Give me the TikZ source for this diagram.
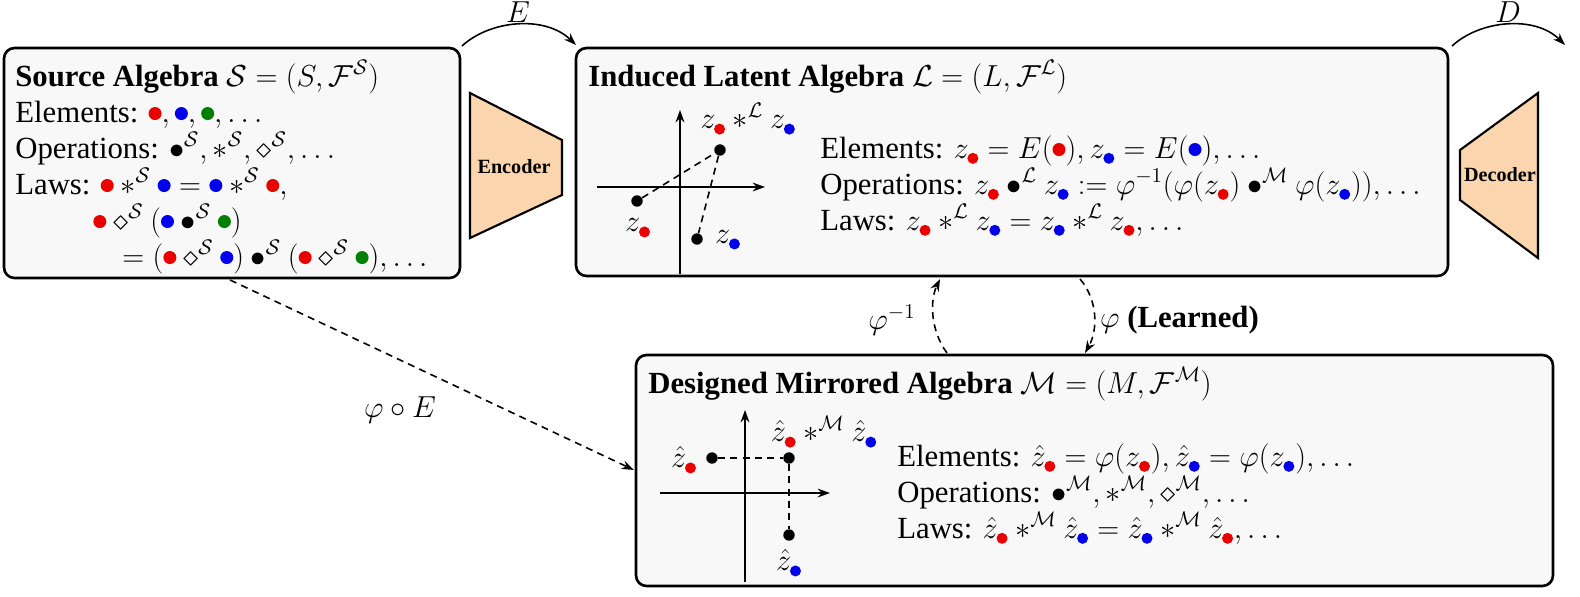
\documentclass[tikz,border=0pt]{standalone}
\usepackage{fontspec}
\setmainfont{Liberation Serif}
\usepackage{amsmath,amssymb}
\usetikzlibrary{arrows.meta}
\definecolor{boxfill}{RGB}{248,248,248}
\definecolor{encfill}{RGB}{251,213,174}
\definecolor{mred}{RGB}{235,0,0}
\definecolor{mblue}{RGB}{0,0,235}
\definecolor{mgreen}{RGB}{0,128,0}
\newcommand\rd{\mathord{\tikz[baseline=-0.6ex]\fill[mred] (0,0) circle (0.13cm);}}
\newcommand\bd{\mathord{\tikz[baseline=-0.6ex]\fill[mblue] (0,0) circle (0.13cm);}}
\newcommand\gd{\mathord{\tikz[baseline=-0.6ex]\fill[mgreen] (0,0) circle (0.13cm);}}
\newcommand\rs{{\tikz[baseline=-0.3ex]\fill[mred] (0,0) circle (0.11cm);}}
\newcommand\bs{{\tikz[baseline=-0.3ex]\fill[mblue] (0,0) circle (0.11cm);}}
\newcommand\zr{z_{\rs}}
\newcommand\zb{z_{\bs}}
\newcommand\hzr{\hat z_{\rs}}
\newcommand\hzb{\hat z_{\bs}}
\begin{document}
\begin{tikzpicture}[x=0.02cm,y=-0.02cm,
  box/.style={draw,line width=1.5pt,rounded corners=6pt,fill=boxfill},
  txt/.style={anchor=base west,inner sep=0pt,font=\fontsize{17.5}{20}\selectfont},
  lbl/.style={inner sep=1pt,font=\fontsize{17.5}{20}\selectfont},
  coder/.style={draw,line width=1.2pt,fill=encfill},
  ax/.style={line width=1pt,-{Stealth[length=7pt,width=5pt]}},
  dsh/.style={line width=0.9pt,dash pattern=on 4pt off 3pt},
  arr/.style={line width=0.9pt,-{Stealth[length=7pt,width=5pt]}},
  pt/.style={circle,fill=black,inner sep=0pt,minimum size=6.5pt}]
\useasboundingbox (0,0) rectangle (1580,596);
% boxes
\draw[box] (4,48) rectangle (460,278);
\draw[box] (576,48) rectangle (1448,276);
\draw[box] (636,355) rectangle (1553,586);
\coordinate (sbot) at (230,280);
\coordinate (mleft) at (634,470);
% encoder/decoder
\draw[coder] (470,93) -- (562,140) -- (562,195) -- (470,238) -- cycle;
\node[font=\bfseries\fontsize{11.5}{13}\selectfont] (enc) at (514,167) {Encoder};
\draw[coder] (1460,150) -- (1538,93) -- (1538,258) -- (1460,200) -- cycle;
\node[font=\bfseries\fontsize{11.5}{13}\selectfont] (dec) at (1500,175) {Decoder};
% source text
\node[txt] (s0) at (15,86) {\textbf{Source Algebra} $\mathcal{S}=(S,\mathcal{F}^{\mathcal{S}})$};
\node[txt] (s1) at (15,122) {Elements: $\rd,\bd,\gd,\dots$};
\node[txt] (s2) at (15,158) {Operations: $\bullet^{\mathcal{S}},\ast^{\mathcal{S}},\diamond^{\mathcal{S}},\dots$};
\node[txt] (s3) at (15,194) {Laws: $\rd\ast^{\mathcal{S}}\bd=\bd\ast^{\mathcal{S}}\rd,$};
\node[txt] (s4) at (93,230) {$\rd\diamond^{\mathcal{S}}(\bd\bullet^{\mathcal{S}}\gd)$};
\node[txt] (s5) at (122,266) {$=(\rd\diamond^{\mathcal{S}}\bd)\bullet^{\mathcal{S}}(\rd\diamond^{\mathcal{S}}\gd),\dots$};
% latent
\node[txt] (l0) at (588,86) {\textbf{Induced Latent Algebra} $\mathcal{L}=(L,\mathcal{F}^{\mathcal{L}})$};
\coordinate (lya) at (680,274); \coordinate (lyb) at (680,110);
\coordinate (lxa) at (597,187); \coordinate (lxb) at (765,187);
\draw[ax] (lya) -- (lyb);
\draw[ax] (lxa) -- (lxb);
\node[pt] (la) at (637,201) {};
\node[pt] (lb) at (720,150) {};
\node[pt] (lc) at (697,239) {};
\draw[dsh] (la) -- (lb) -- (lc);
\node[lbl] (lla) at (638,228) {$\zr$};
\node[lbl] (llc) at (728,240) {$\zb$};
\node[lbl] (llb) at (748,119) {$\zr\ast^{\mathcal{L}}\zb$};
\node[txt] (l1) at (820,158) {Elements: $\zr=E(\rd),\zb=E(\bd),\dots$};
\node[txt] (l2) at (820,194) {Operations: $\zr\bullet^{\mathcal{L}}\zb\mathrel{:=}\varphi^{-1}(\varphi(\zr)\bullet^{\mathcal{M}}\varphi(\zb)),\dots$};
\node[txt] (l3) at (820,230) {Laws: $\zr\ast^{\mathcal{L}}\zb=\zb\ast^{\mathcal{L}}\zr,\dots$};
% mirrored
\node[txt] (m0) at (648,393) {\textbf{Designed Mirrored Algebra} $\mathcal{M}=(M,\mathcal{F}^{\mathcal{M}})$};
\coordinate (mya) at (745,582); \coordinate (myb) at (745,410);
\coordinate (mxa) at (660,493); \coordinate (mxb) at (830,493);
\draw[ax] (mya) -- (myb);
\draw[ax] (mxa) -- (mxb);
\node[pt] (ma) at (712,458) {};
\node[pt] (mb) at (789,458) {};
\node[pt] (mc) at (789,535) {};
\draw[dsh] (ma) -- (mb) -- (mc);
\node[lbl] (mla) at (684,460) {$\hzr$};
\node[lbl] (mlc) at (789,563) {$\hzb$};
\node[lbl] (mlb) at (824,432) {$\hzr\ast^{\mathcal{M}}\hzb$};
\node[txt] (m1) at (897,466) {Elements: $\hzr=\varphi(\zr),\hzb=\varphi(\zb),\dots$};
\node[txt] (m2) at (897,502) {Operations: $\bullet^{\mathcal{M}},\ast^{\mathcal{M}},\diamond^{\mathcal{M}},\dots$};
\node[txt] (m3) at (897,538) {Laws: $\hzr\ast^{\mathcal{M}}\hzb=\hzb\ast^{\mathcal{M}}\hzr,\dots$};
% arrows
\coordinate (e1) at (462,46); \coordinate (e2) at (576,45);
\draw[arr] (e1) .. controls (490,20) and (545,15) .. (e2);
\node[lbl] (el) at (518,12) {$E$};
\coordinate (d1) at (1452,46); \coordinate (d2) at (1565,45);
\draw[arr] (d1) .. controls (1480,20) and (1535,15) .. (d2);
\node[lbl] (dl) at (1508,12) {$D$};
\draw[arr,dsh] (sbot) -- (mleft);
\node[lbl] (pel) at (400,410) {$\varphi\circ E$};
\coordinate (pi1) at (947,353); \coordinate (pi2) at (940,279);
\draw[arr,dsh] (pi1) .. controls (930,330) and (930,300) .. (pi2);
\node[lbl] (pil) at (892,320) {$\varphi^{-1}$};
\coordinate (p1) at (1080,279); \coordinate (p2) at (1085,353);
\draw[arr,dsh] (p1) .. controls (1098,300) and (1098,330) .. (p2);
\node[lbl,anchor=west] (pl) at (1098,320) {$\varphi$ \textbf{(Learned)}};
\end{tikzpicture}
\end{document}
